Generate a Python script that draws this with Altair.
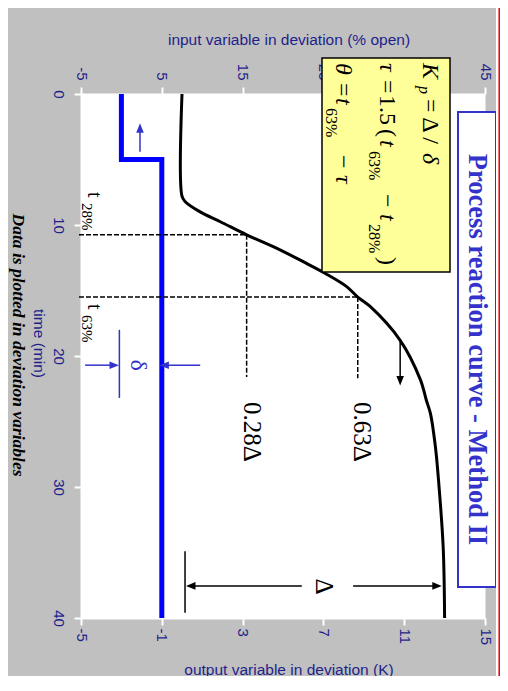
import altair as alt
import pandas as pd

# ---------------- data ----------------
# input (valve, % open) : step at t = 5 min
t_in = [0, 5, 5, 40]
u_in = [0, 0, 5, 5]

# output (K) reaction curve
t_out = [0, 7.8, 8.2, 9.0, 9.75, 10.75, 11.9, 12.8, 13.7, 14.7, 15.5, 16.2,
         18.8, 21.8, 23.4, 24.4, 27.0, 29.5, 34.6, 40]
y_out = [0, 0, 0.15, 0.9, 1.9, 3.2, 4.85, 6.0, 7.1, 8.15, 8.7, 9.3,
         10.8, 11.8, 12.1, 12.3, 12.55, 12.7, 12.93, 13.0]

in_ticks = [-5, 5, 15, 25, 35, 45]
out_ticks = [-5, -1, 3, 7, 11, 15]
time_ticks = [0, 10, 20, 30, 40]

# 28 % and 63 % construction points (time, output)
t28, y28 = 10.75, 3.2
t63, y63 = 15.5, 8.7

# annotation segments (output units, time)
dash_o1 = [-5.1, y28, -5.1, y63]
dash_o2 = [y28, y28, y63, y63]
dash_t1 = [t28, t28, t63, t63]
dash_t2 = [t28, 21.6, t63, 21.7]

blk_o1 = [0.15, 0.3, 8.47, 10.8]
blk_o2 = [0.15, 5.93, 12.7, 10.8]
blk_t1 = [34.9, 37.55, 37.55, 18.9]
blk_t2 = [39.6, 37.55, 37.55, 21.9]

blu_o1 = [-2.08, -3.1, -4.8, 0.9]
blu_o2 = [-2.08, -3.1, -3.4, -0.8]
blu_t1 = [4.4, 18.0, 20.7, 20.7]
blu_t2 = [2.9, 23.2, 20.7, 20.7]

# arrow heads (tip position)
R = "M0,0L-2,-0.8L-2,0.8Z"
L = "M0,0L2,-0.8L2,0.8Z"
D = "M0,0L-0.8,-2L0.8,-2Z"
U = "M0,0L-0.8,2L0.8,2Z"
bh_o = [12.86, 0.2, 10.8]
bh_t = [37.55, 37.55, 22.25]
bh_s = [R, L, D]
uh_o = [-2.08, -3.12, -1.12]
uh_t = [2.24, 20.7, 20.7]
uh_s = [U, R, L]

lab_o = [3.47, 8.91, 7.03]
lab_t = [25.8, 25.8, 37.6]
lab_s = ["0.28\u0394", "0.63\u0394", "\u0394"]

# ---------------- styling ----------------
NAVY = "#1F1F8A"
BLUE2 = "#3333CC"
SERIF = "Liberation Serif"
SANS = "Liberation Sans"
MINUS_FIX = "replace(datum.label, '\u2212', '-')"

common = dict(labelColor=NAVY, titleColor=NAVY, labelFont=SANS, titleFont=SANS,
              labelFontSize=15, titleFontSize=15.5, titleFontWeight="normal",
              tickColor="white", tickWidth=2, tickSize=7, domainColor="white",
              domainWidth=2, grid=False, labelAngle=90, labelFlush=False,
              labelOverlap=False, labelExpr=MINUS_FIX)

top_axis = alt.Axis(orient="top", values=in_ticks, title="input variable in deviation (% open)",
                    labelAlign="right", labelBaseline="middle", labelPadding=7,
                    titleX=207.5, titleY=-55, titleAlign="center", titleBaseline="middle",
                    titleAngle=0, **common)
bot_axis = alt.Axis(orient="bottom", values=out_ticks, title="output variable in deviation (K)",
                    labelAlign="left", labelBaseline="middle", labelPadding=3,
                    titleX=207.5, titleY=51, titleAlign="center", titleBaseline="middle",
                    titleAngle=0, **common)
left_axis = alt.Axis(orient="left", values=time_ticks, title="time (min)",
                     labelAlign="center", labelBaseline="top", labelPadding=9,
                     titleX=-43, titleY=249, titleAlign="center", titleBaseline="middle",
                     titleAngle=90, **common)

XIN = alt.Scale(domain=[-5, 45], nice=False, zero=False)
XOUT = alt.Scale(domain=[-5, 15], nice=False, zero=False)
YS = alt.Scale(domain=[0, 40], reverse=True, nice=False, zero=False)

df_in = pd.DataFrame({"t": t_in, "u": u_in, "i": list(range(len(t_in)))})
df_out = pd.DataFrame({"t": t_out, "y": y_out, "i": list(range(len(t_out)))})
one = pd.DataFrame({"a": [0]})


def XO(f):
    return alt.X(f, scale=XOUT, axis=bot_axis)


def YT(f):
    return alt.Y(f, scale=YS, axis=left_axis)


input_layer = alt.Chart(df_in).mark_line(color="#0000FF", strokeWidth=5, strokeJoin="miter").encode(
    x=alt.X("u:Q", scale=XIN, axis=top_axis),
    y=YT("t:Q"),
    order="i:Q",
)

output_layer = alt.Chart(df_out).mark_line(color="black", strokeWidth=3,
                                           interpolate="catmull-rom").encode(
    x=XO("y:Q"), y=YT("t:Q"), order="i:Q",
)


def segs(o1, o2, t1, t2, **mk):
    df = pd.DataFrame({"o1": o1, "o2": o2, "t1": t1, "t2": t2})
    return alt.Chart(df).mark_rule(**mk).encode(
        x=XO("o1:Q"), x2="o2:Q", y=YT("t1:Q"), y2="t2:Q")


def heads(o, t, s, color):
    df = pd.DataFrame({"o": o, "t": t, "s": s})
    return alt.Chart(df).mark_point(filled=True, size=90, opacity=1, color=color, strokeWidth=0).encode(
        x=XO("o:Q"), y=YT("t:Q"), shape=alt.Shape("s:N", scale=None))


dashed = segs(dash_o1, dash_o2, dash_t1, dash_t2, color="black", strokeWidth=1.5, strokeDash=[5, 2])
black_lines = segs(blk_o1, blk_o2, blk_t1, blk_t2, color="black", strokeWidth=1.5)
blue_lines = segs(blu_o1, blu_o2, blu_t1, blu_t2, color=BLUE2, strokeWidth=1.5)
black_heads = heads(bh_o, bh_t, bh_s, "black")
blue_heads = heads(uh_o, uh_t, uh_s, BLUE2)

labels = alt.Chart(pd.DataFrame({"o": lab_o, "t": lab_t, "s": lab_s})).mark_text(
    angle=90, font=SERIF, fontSize=25, color="black", align="center", baseline="middle").encode(
    x=XO("o:Q"), y=YT("t:Q"), text="s:N")

delta_small = alt.Chart(pd.DataFrame({"o": [-2.18], "t": [20.7], "s": ["\u03b4"]})).mark_text(
    angle=90, font=SERIF, fontSize=24, color=BLUE2, align="center", baseline="middle").encode(
    x=XO("o:Q"), y=YT("t:Q"), text="s:N")


# -------- decorations in pixel space (relative to plot origin) --------
def prect(x1, x2, y1, y2, **mk):
    return alt.Chart(one).mark_rect(**mk).encode(
        x=alt.value(x1), x2=alt.value(x2), y=alt.value(y1), y2=alt.value(y2))


def ptext(txt, x, y, size, color="black", font=SERIF, style="normal", weight="normal",
          align="left", baseline="alphabetic"):
    return alt.Chart(one).mark_text(text=txt, angle=90, font=font, fontSize=size, fontStyle=style,
                                    fontWeight=weight, color=color, align=align,
                                    baseline=baseline).encode(x=alt.value(x), y=alt.value(y))


PAD_L, PAD_T, W, HP = 73, 86, 404, 524
W_TOTAL, H_TOTAL = 492, 668
deco = [
    prect(241, 369, -36, 178, fill="#FFFF99", stroke="black", strokeWidth=1.5),
    # Kp = Δ/δ
    ptext("K", 342, -31, 24, style="italic"),
    ptext("p", 338, -8, 16, style="italic"),
    ptext("= \u0394 /", 342, 5, 24),
    ptext("\u03b4", 342, 59, 24, style="italic"),
    # τ = 1.5(t63% − t28%)
    ptext("\u03c4", 299, -31, 24, style="italic"),
    ptext("=", 299, -14, 24),
    ptext("1.5", 299, 1, 24),
    ptext("(", 299, 35, 24),
    ptext("t", 299, 46, 24, style="italic"),
    ptext("63%", 288, 57, 16),
    ptext("\u2212", 299, 100, 24),
    ptext("t", 299, 120, 24, style="italic"),
    ptext("28%", 288, 130, 16),
    ptext(")", 299, 163, 24),
    # θ = t63% − τ
    ptext("\u03b8", 255, -31, 24, style="italic"),
    ptext("=", 255, -11, 24),
    ptext("t", 255, 4, 24, style="italic"),
    ptext("63%", 245, 14, 16),
    ptext("\u2212", 255, 61, 24),
    ptext("\u03c4", 255, 81, 24, style="italic"),
    # t28% / t63% markers
    ptext("t", 7, 98, 20),
    ptext("28%", 1, 109, 15),
    ptext("t", 7, 210, 20),
    ptext("63%", 1, 221, 15),
    # title box
    prect(377, 415, 18, 493, fill="white", stroke=BLUE2, strokeWidth=2),
    ptext("Process reaction curve - Method II", 396, 255.5, 26.5, color=BLUE2,
          weight="bold", align="center", baseline="middle"),
    # footnote
    ptext("Data is plotted in deviation variables", -63, 251, 17.5, style="italic",
          weight="bold", align="center", baseline="middle"),
    # right edge strip and red line
    prect(W_TOTAL - PAD_L - 4, W_TOTAL - PAD_L - 1.5, -PAD_T, H_TOTAL, fill="white", strokeWidth=0),
    prect(W_TOTAL - PAD_L - 1.5, W_TOTAL - PAD_L, -PAD_T, H_TOTAL, fill="#FF0000", strokeWidth=0),
]

inner = alt.layer(output_layer, dashed, black_lines, blue_lines, black_heads, blue_heads,
                  labels, delta_small, *deco)

chart = alt.layer(input_layer, inner).resolve_scale(x="independent").properties(
    width=W, height=HP,
    padding={"left": PAD_L, "top": PAD_T, "right": W_TOTAL - PAD_L - W,
             "bottom": H_TOTAL - PAD_T - HP},
    autosize=alt.AutoSizeParams(type="none"),
    background="#C0C0C0",
).configure_view(fill="white", stroke="transparent")

chart.save("out.html", embed_options={"renderer": "svg", "actions": False})
